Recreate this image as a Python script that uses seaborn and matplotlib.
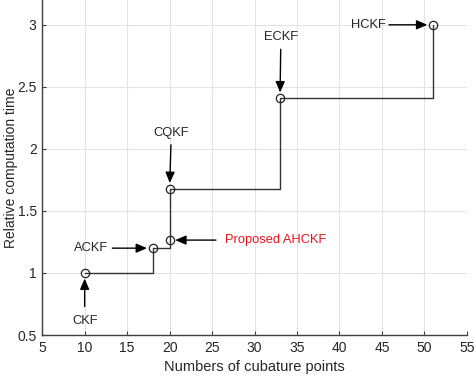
import numpy as np
import pandas as pd
import matplotlib
matplotlib.use("Agg")
import matplotlib.pyplot as plt
import seaborn as sns

# dati
filters = ["CKF", "ACKF", "Proposed AHCKF", "CQKF", "ECKF", "HCKF"]
points = [10, 18, 20, 20, 33, 51]
rel_time = [1.0, 1.2, 1.265, 1.68, 2.41, 3.0]

df = pd.DataFrame({"points": points, "time": rel_time, "filter": filters})

sns.set_style("whitegrid", {"grid.color": "#e3e3e3", "axes.edgecolor": "#404040"})
plt.rcParams["font.family"] = ["Liberation Sans", "DejaVu Sans"]

fig = plt.figure(figsize=(4.74, 3.76), dpi=100)
ax = fig.add_axes([0.089, 0.109, 0.896, 0.891])

sns.lineplot(data=df, x="points", y="time", estimator=None, sort=False,
             drawstyle="steps-post", color="#333333", linewidth=1.0,
             marker="o", markersize=6, markerfacecolor="none",
             markeredgecolor="#222222", markeredgewidth=0.9, ax=ax)

ax.set_xlim(5, 55)
ax.set_ylim(0.5, 3.2)
ax.set_xticks(np.arange(5, 56, 5))
ax.set_yticks([0.5, 1, 1.5, 2, 2.5, 3])
ax.set_yticklabels(["0.5", "1", "1.5", "2", "2.5", "3"])
ax.set_xlabel("Numbers of cubature points", fontsize=10.5, labelpad=4)
ax.set_ylabel("Relative computation time", fontsize=10)
ax.yaxis.set_label_coords(-0.058, 0.5)
ax.tick_params(labelsize=10, direction="in", length=3, color="#404040",
               bottom=True, left=True, pad=4)
for s in ["top", "right"]:
    ax.spines[s].set_visible(False)
ax.spines["left"].set_linewidth(1.0)
ax.spines["bottom"].set_linewidth(1.0)

arrow = dict(arrowstyle="-|>,head_length=0.7,head_width=0.3", color="black",
             lw=1.0, shrinkA=1, shrinkB=4)
fs = 9.3
# CKF
ax.annotate("CKF", xy=(10, 1.0), xytext=(10, 0.61), ha="center", va="center",
            fontsize=fs, arrowprops=dict(arrow, shrinkA=4))
# ACKF
ax.annotate("ACKF", xy=(18, 1.2), xytext=(10.7, 1.2), ha="center", va="center",
            fontsize=fs, arrowprops=dict(arrow))
# Proposed AHCKF
ax.annotate("Proposed AHCKF", xy=(20, 1.265), xytext=(26.5, 1.265), ha="left", va="center",
            fontsize=fs, color="#e8141c", arrowprops=dict(arrow, shrinkA=4))
# CQKF
ax.annotate("CQKF", xy=(20, 1.68), xytext=(20.2, 2.13), ha="center", va="center",
            fontsize=fs, arrowprops=dict(arrow, shrinkA=2))
# ECKF
ax.annotate("ECKF", xy=(33, 2.41), xytext=(33.1, 2.9), ha="center", va="center",
            fontsize=fs, arrowprops=dict(arrow, shrinkA=2))
# HCKF
ax.annotate("HCKF", xy=(51, 3.0), xytext=(43.4, 3.0), ha="center", va="center",
            fontsize=fs, arrowprops=dict(arrow, shrinkA=0))

fig.savefig("out.png", dpi=100)
